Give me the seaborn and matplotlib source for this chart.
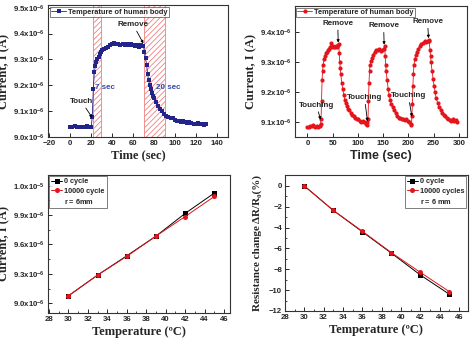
import matplotlib
matplotlib.use("Agg")
import matplotlib.pyplot as plt
import seaborn as sns
import pandas as pd
from matplotlib.ticker import FixedLocator, FuncFormatter, AutoMinorLocator, MultipleLocator
from matplotlib.lines import Line2D

# ---------------- data ----------------
# Panel (a): single touch / remove cycle
t1 = [0, 2, 4, 6, 8, 10, 12, 14, 16, 18, 20, 21, 22, 23, 24, 25, 26, 27, 28, 29, 30,
      32, 34, 36, 38, 40, 42, 44, 46, 48, 50, 52, 54, 56, 58, 60, 62, 64, 66, 68, 70,
      71, 72, 73, 74, 75, 76, 77, 78, 79, 80, 82, 84, 86, 88, 90, 92, 94, 96, 98, 100,
      102, 104, 106, 108, 110, 112, 114, 116, 118, 120, 122, 124, 126, 128, 130]
i1 = [9.040, 9.039, 9.041, 9.038, 9.039, 9.040, 9.038, 9.040, 9.041, 9.039, 9.040,
      9.078, 9.185, 9.250, 9.275, 9.290, 9.300, 9.310, 9.320, 9.330, 9.335,
      9.340, 9.345, 9.350, 9.355, 9.360, 9.365, 9.358, 9.360, 9.356, 9.360, 9.357,
      9.360, 9.355, 9.358, 9.356, 9.352, 9.356, 9.348, 9.356, 9.352,
      9.330, 9.305, 9.280, 9.245, 9.220, 9.200, 9.185, 9.170, 9.160, 9.150,
      9.135, 9.120, 9.110, 9.100, 9.090, 9.082, 9.076, 9.073, 9.075, 9.066,
      9.064, 9.062, 9.060, 9.062, 9.058, 9.056, 9.057, 9.054, 9.052, 9.050,
      9.053, 9.049, 9.051, 9.047, 9.050]
windows1 = [(22, 29.5), (70.5, 90.5)]

# Panel (b): three touch / remove cycles
t2 = [0, 3, 6, 9, 12, 15, 18, 21, 24, 26, 27,
      28, 29, 30, 31, 33, 35, 37, 39, 41, 43, 45, 47, 49, 51, 53, 55, 57, 59, 61, 62,
      63, 64, 65, 66, 68, 70, 72, 74, 76, 78, 80, 83, 86, 89, 92, 95, 98, 101, 104,
      107, 110, 113, 116, 118, 119,
      120, 121, 122, 123, 124, 126, 128, 130, 133, 136, 139, 142, 145, 148, 151, 153,
      154, 155, 156, 158, 160, 162, 164, 166, 169, 172, 175, 178, 181, 184, 187, 190,
      193, 196, 199, 202, 205, 206,
      207, 208, 209, 210, 211, 213, 215, 217, 220, 223, 226, 229, 232, 235, 238, 240, 241,
      243, 244, 245, 247, 249, 251, 253, 255, 258, 261, 264, 267, 270, 273, 276, 279,
      282, 285, 288, 291, 294, 297]
i2 = [9.085, 9.083, 9.088, 9.086, 9.090, 9.084, 9.087, 9.083, 9.088, 9.095, 9.110,
      9.170, 9.240, 9.270, 9.290, 9.310, 9.320, 9.330, 9.335, 9.340, 9.345, 9.350,
      9.365, 9.350, 9.355, 9.350, 9.352, 9.355, 9.350, 9.358, 9.360,
      9.330, 9.300, 9.280, 9.260, 9.230, 9.210, 9.190, 9.175, 9.165, 9.155, 9.145,
      9.140, 9.130, 9.125, 9.120, 9.115, 9.110, 9.110, 9.105, 9.100, 9.105, 9.100,
      9.095, 9.100, 9.090,
      9.110, 9.170, 9.230, 9.270, 9.290, 9.305, 9.315, 9.325, 9.335, 9.340, 9.340,
      9.343, 9.338, 9.340, 9.345, 9.355,
      9.320, 9.290, 9.270, 9.240, 9.210, 9.190, 9.175, 9.160, 9.150, 9.140, 9.130,
      9.120, 9.115, 9.115, 9.110, 9.112, 9.108, 9.110, 9.105, 9.100, 9.095, 9.090,
      9.120, 9.160, 9.220, 9.260, 9.290, 9.310, 9.325, 9.335, 9.345, 9.355, 9.360,
      9.365, 9.370, 9.368, 9.372, 9.375, 9.370,
      9.340, 9.320, 9.300, 9.270, 9.245, 9.220, 9.200, 9.180, 9.165, 9.150, 9.140,
      9.130, 9.125, 9.120, 9.115, 9.110, 9.108, 9.105, 9.110, 9.105, 9.108, 9.100]

# Panel (c), (d): temperature sweeps
temp = [30, 33, 36, 39, 42, 45]
cur_0 = [9.075, 9.287, 9.484, 9.685, 9.917, 10.125]
cur_10k = [9.075, 9.287, 9.478, 9.685, 9.885, 10.090]
res_0 = [0.0, -2.35, -4.40, -6.45, -8.55, -10.40]
res_10k = [0.0, -2.35, -4.35, -6.40, -8.30, -10.15]

# ---------------- style ----------------
sns.set_style("ticks")
plt.rcParams["font.family"] = ["Liberation Sans", "DejaVu Sans"]
plt.rcParams["font.weight"] = "bold"
plt.rcParams["mathtext.fontset"] = "custom"
plt.rcParams["mathtext.rm"] = "Liberation Sans:bold"
plt.rcParams["mathtext.bf"] = "Liberation Sans:bold"
plt.rcParams["mathtext.it"] = "Liberation Sans:italic:bold"
plt.rcParams["mathtext.default"] = "bf"
plt.rcParams["hatch.linewidth"] = 0.6
plt.rcParams["axes.linewidth"] = 0.8

NAVY = "#23238c"
RED = "#e3141c"
SERIF = ["Liberation Serif", "DejaVu Serif"]
TICK_FS = 5.6
ANN_FS = 5.8
LEG_FS = 5.3

fig = plt.figure(figsize=(4.74, 3.41), dpi=100)
fig.patch.set_facecolor("white")


def sci_fmt(v, pos=None):
    if v >= 9.95:
        return f"{v/10:.1f}x10$^{{-5}}$"
    return f"{v:.1f}x10$^{{-6}}$"


def style_ax(ax):
    ax.tick_params(direction="in", length=3, width=0.7, labelsize=TICK_FS, pad=2)
    ax.tick_params(which="minor", direction="in", length=1.5, width=0.6)
    for s in ax.spines.values():
        s.set_color("#333333")
        s.set_linewidth(0.8)
    for lab in ax.get_xticklabels() + ax.get_yticklabels():
        lab.set_fontweight("bold")


arrow = dict(arrowstyle="-|>", color="black", lw=0.6, mutation_scale=4,
             shrinkA=0, shrinkB=0)

# ---------------- panel (a) ----------------
ax1 = fig.add_axes([0.101, 0.598, 0.380, 0.387])
df1 = pd.DataFrame({"t": t1, "I": i1})
for a, b in windows1:
    ax1.axvspan(a, b, facecolor="white", edgecolor="#ee8080", hatch="//////",
                lw=0.6, zorder=1)
sns.lineplot(data=df1, x="t", y="I", ax=ax1, color=NAVY, marker="s",
             markersize=2.6, markeredgewidth=0, lw=0.6,
             label="Temperature of human body", zorder=3)
ax1.set_xlim(-21.5, 151)
ax1.set_ylim(9.0, 9.51)
ax1.xaxis.set_major_locator(MultipleLocator(20))
ax1.yaxis.set_major_locator(FixedLocator([9.0, 9.1, 9.2, 9.3, 9.4, 9.5]))
ax1.yaxis.set_major_formatter(FuncFormatter(sci_fmt))
ax1.set_xlabel("Time (sec)", family=SERIF, fontweight="bold", fontsize=9, labelpad=2)
ax1.set_ylabel("Current, I (A)", family=SERIF, fontweight="bold", fontsize=9, labelpad=2)
leg = ax1.legend(loc="upper left", fontsize=LEG_FS, frameon=True, fancybox=False,
                 edgecolor="#444444", borderpad=0.15, handlelength=2.0,
                 handletextpad=0.3, borderaxespad=0.3)
leg.get_frame().set_linewidth(0.6)
ax1.annotate("Touch", xy=(21, 9.075), xytext=(10.5, 9.125), fontsize=ANN_FS,
             ha="center", va="bottom", arrowprops=arrow)
ax1.annotate("Remove", xy=(70, 9.362), xytext=(60, 9.422), fontsize=ANN_FS,
             ha="center", va="bottom", arrowprops=arrow)
ax1.text(24, 9.193, "7 sec", color="#3a4aa8", fontsize=ANN_FS, va="center", ha="left")
ax1.text(82, 9.193, "20 sec", color="#3a4aa8", fontsize=ANN_FS, va="center", ha="left")
style_ax(ax1)

# ---------------- panel (b) ----------------
ax2 = fig.add_axes([0.622, 0.598, 0.363, 0.384])
df2 = pd.DataFrame({"t": t2, "I": i2})
sns.lineplot(data=df2, x="t", y="I", ax=ax2, color=RED, marker="o",
             markersize=3.0, markeredgewidth=0, lw=0.6,
             label="Temperature of human body")
ax2.set_xlim(-25, 316)
ax2.set_ylim(9.05, 9.487)
ax2.xaxis.set_major_locator(MultipleLocator(50))
ax2.yaxis.set_major_locator(FixedLocator([9.1, 9.2, 9.3, 9.4]))
ax2.yaxis.set_major_formatter(FuncFormatter(sci_fmt))
ax2.set_xlabel("Time (sec)", fontweight="bold", fontsize=9, labelpad=2)
ax2.set_ylabel("Current, I (A)", family=SERIF, fontweight="bold", fontsize=9, labelpad=2)
leg = ax2.legend(loc="upper left", fontsize=LEG_FS, frameon=True, fancybox=False,
                 edgecolor="#444444", borderpad=0.15, handlelength=2.0,
                 handletextpad=0.3, borderaxespad=0.2)
leg.get_frame().set_linewidth(0.6)
for txt, xy, xyt in [("Touching", (26, 9.108), (18, 9.145)),
                     ("Remove", (61, 9.365), (60, 9.418)),
                     ("Touching", (119, 9.103), (113, 9.170)),
                     ("Remove", (152, 9.358), (151, 9.410)),
                     ("Touching", (207, 9.118), (200, 9.176)),
                     ("Remove", (240, 9.38), (238, 9.424))]:
    ax2.annotate(txt, xy=xy, xytext=xyt, fontsize=ANN_FS, ha="center", va="bottom",
                 arrowprops=arrow)
style_ax(ax2)

# ---------------- panel (c) ----------------
ax3 = fig.add_axes([0.101, 0.082, 0.384, 0.405])
df3 = pd.DataFrame({"T": temp + temp, "I": cur_0 + cur_10k,
                    "s": ["0 cycle"] * 6 + ["10000 cycle"] * 6})
sns.lineplot(data=df3, x="T", y="I", hue="s", style="s", ax=ax3,
             palette={"0 cycle": "black", "10000 cycle": RED},
             markers={"0 cycle": "s", "10000 cycle": "o"}, dashes=False,
             markersize=3.6, markeredgewidth=0, lw=0.7)
ax3.set_xlim(27.9, 46.6)
ax3.set_ylim(8.9, 10.31)
ax3.xaxis.set_major_locator(MultipleLocator(2))
ax3.xaxis.set_minor_locator(AutoMinorLocator(2))
ax3.yaxis.set_major_locator(FixedLocator([9.0, 9.3, 9.6, 9.9, 10.2]))
ax3.yaxis.set_minor_locator(FixedLocator([9.15, 9.45, 9.75, 10.05]))
ax3.yaxis.set_major_formatter(FuncFormatter(sci_fmt))
ax3.set_xlabel("Temperature (\u00baC)", family=SERIF, fontweight="bold", fontsize=9, labelpad=2)
ax3.set_ylabel("Current, I (A)", family=SERIF, fontweight="bold", fontsize=9, labelpad=2)
h, l = ax3.get_legend_handles_labels()
h.append(Line2D([], [], lw=0, marker=None))
l.append("$r$ = 6mm")
leg = ax3.legend(h, l, loc="upper left", fontsize=LEG_FS, frameon=True, fancybox=False,
                 edgecolor="#444444", borderpad=0.25, handlelength=1.5,
                 handletextpad=0.3, borderaxespad=0.2, labelspacing=0.3)
leg.get_frame().set_linewidth(0.6)
style_ax(ax3)

# ---------------- panel (d) ----------------
ax4 = fig.add_axes([0.601, 0.088, 0.386, 0.399])
df4 = pd.DataFrame({"T": temp + temp, "R": res_0 + res_10k,
                    "s": ["0 cycle"] * 6 + ["10000 cycles"] * 6})
sns.lineplot(data=df4, x="T", y="R", hue="s", style="s", ax=ax4,
             palette={"0 cycle": "black", "10000 cycles": RED},
             markers={"0 cycle": "s", "10000 cycles": "o"}, dashes=False,
             markersize=3.6, markeredgewidth=0, lw=0.7)
ax4.set_xlim(28, 46.9)
ax4.set_ylim(-12, 1.05)
ax4.xaxis.set_major_locator(MultipleLocator(2))
ax4.xaxis.set_minor_locator(AutoMinorLocator(2))
ax4.yaxis.set_major_locator(MultipleLocator(2))
ax4.yaxis.set_minor_locator(AutoMinorLocator(2))
ax4.set_xlabel("Temperature (\u00baC)", family=SERIF, fontweight="bold", fontsize=9, labelpad=2)
ax4.set_ylabel("Resistance change \u0394R/R\u2080(%)", family=SERIF, fontweight="bold",
               fontsize=8, labelpad=5)
h, l = ax4.get_legend_handles_labels()
h.append(Line2D([], [], lw=0, marker=None))
l.append("$r$ = 6 mm")
leg = ax4.legend(h, l, loc="upper right", fontsize=LEG_FS, frameon=True, fancybox=False,
                 edgecolor="#444444", borderpad=0.25, handlelength=1.5,
                 handletextpad=0.3, borderaxespad=0.2, labelspacing=0.3)
leg.get_frame().set_linewidth(0.6)
style_ax(ax4)

fig.savefig("out.png", dpi=100, facecolor="white")
